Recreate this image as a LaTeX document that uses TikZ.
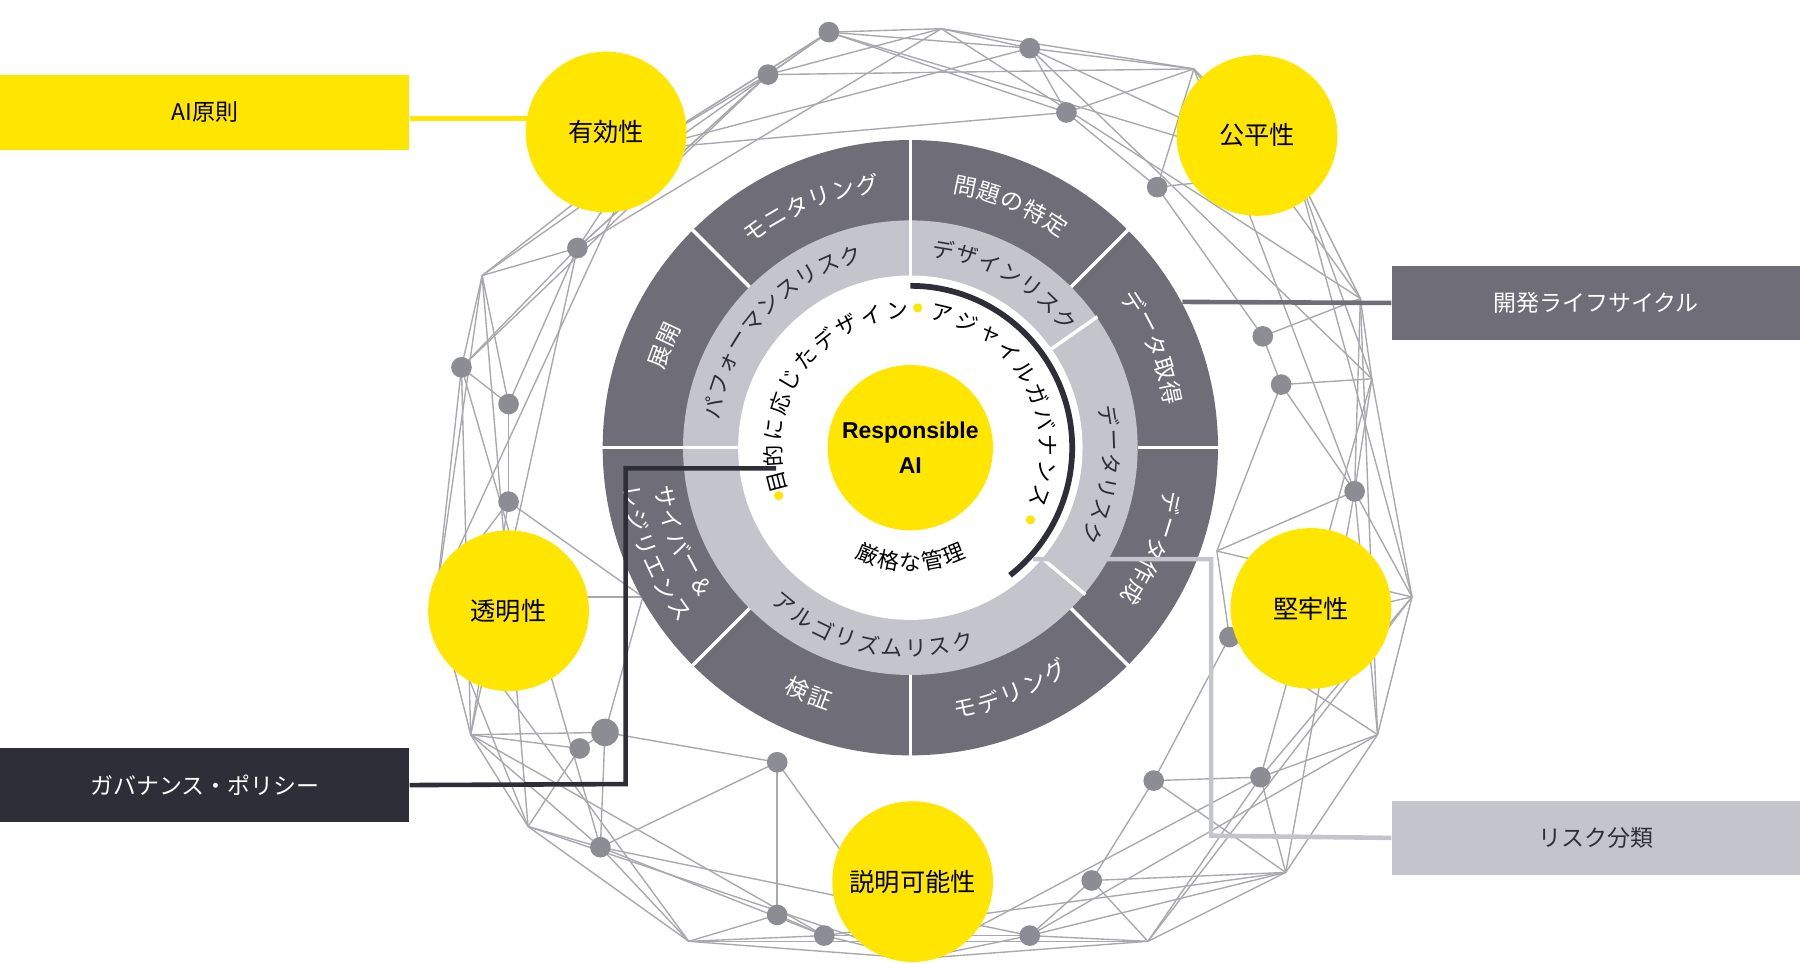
\documentclass[tikz,border=0pt]{standalone}
\usepackage{fontspec}
\setmainfont{Noto Sans CJK JP}
\newfontfamily\lat{Liberation Sans}
\definecolor{ey}{HTML}{FFE600}
\definecolor{dk}{HTML}{6F6E78}
\definecolor{lt}{HTML}{C4C4CD}
\definecolor{gv}{HTML}{2E2E38}
\definecolor{net}{HTML}{A8A8AE}
\definecolor{dot}{HTML}{8C8C94}
\newcommand\arcT[7]{%
 \foreach \ch [count=\i] in {#6}{%
  \pgfmathsetmacro\ang{#2+#4*((#5-1)/2-(\i-1))*#3}%
  \pgfmathsetmacro\rot{\ang-#4*90}%
  \node[rotate=\rot,inner sep=0pt,#7] at (\ang:#1) {\ch};}}
\begin{document}
\begin{tikzpicture}[x=0.5pt,y=-0.5pt,
  edge/.style={net,line width=0.6pt},
  nd/.style={circle,fill=dot,minimum size=9pt,inner sep=0pt},
  big/.style={circle,fill=ey,minimum size=70pt,inner sep=0pt,font=\fontsize{11}{13}\selectfont},
  box/.style={minimum width=178pt,minimum height=32.5pt,inner sep=0pt,font=\fontsize{10}{12}\selectfont},
  ring/.style={white,font=\fontsize{10}{12}\selectfont},
  lring/.style={gv,font=\fontsize{9.5}{12}\selectfont},
  inn/.style={black,font=\fontsize{9.5}{12}\selectfont}]
\useasboundingbox (0,0) rectangle (1568,839);
% network
\foreach \x/\y [count=\k from 0] in {722/28,820/25,897/42,1040/60,1130/150,1185/260,1195/330,1180/428,1230/520,1200/640,1098/677,1120/760,1000/820,897/815,800/835,718/815,600/820,523/738,460/720,410/640,380/520,402/320,420/240,503/216,560/130,669/65}
  \coordinate (o\k) at (\x,\y);
\foreach \x/\y [count=\k from 0] in {929/98,1008/163,1100/293,1116/335,1071/555,1005/680,951/767,677/797,677/664,527/638,505/652,443/437,443/352,560/520,1060/480}
  \coordinate (i\k) at (\x,\y);
\foreach \k in {0,...,25}{
  \pgfmathtruncatemacro\a{mod(\k+1,26)}
  \pgfmathtruncatemacro\b{mod(\k+2,26)}
  \pgfmathtruncatemacro\c{mod(\k+4,26)}
  \draw[edge] (o\k) -- (o\a);
  \draw[edge] (o\k) -- (o\b);
  \draw[edge] (o\k) -- (o\c);}
\foreach \u/\v in {i0/o0,i0/o2,i0/o3,i0/i1,i1/o3,i1/o4,i1/i2,i2/o5,i2/i3,i3/o6,i3/o7,i3/i14,i14/o7,i14/o8,i14/i4,i4/o8,i4/o9,i4/i5,i5/o10,i5/o11,i5/i6,i6/o12,i6/o13,i6/o11,i7/o15,i7/o16,i7/i8,i8/o14,i8/o17,i8/i9,i9/o17,i9/o19,i10/o18,i10/o19,i10/i9,i11/o20,i11/o19,i11/i12,i12/o21,i12/o22,i12/o23,i13/i11,i13/i9,i13/o20,o23/o25,o24/o0,i0/o24}
  \draw[edge] (\u) -- (\v);
\foreach \p [count=\k] in {o0,o2,o25,o7,o10,o13,o15,o17,o21,o23,i0,i1,i2,i3,i4,i5,i6,i7,i8,i10,i11,i12}
  \node[nd] (d\k) at (\p) {};
\node[nd,minimum size=12pt] (dbig) at (i9) {};
% rings
\begin{scope}[shift={(793,390)},yscale=-1]
 \fill[dk] (0,0) circle[radius=268];
 \fill[lt] (0,0) circle[radius=198];
 \fill[white] (0,0) circle[radius=150];
 \foreach \a in {0,45,...,315} \draw[white,line width=1.5pt] (\a:198) -- (\a:270);
 \foreach \a in {90,35,-40,180} \draw[white,line width=1.5pt] (\a:150) -- (\a:199);
 \draw[gv,line width=2.5pt] (90:141) arc[start angle=90,end angle=-52,radius=141];
 \fill[ey] (0,0) circle[radius=72];
 \node[align=center,font=\lat\bfseries\fontsize{10}{15}\selectfont] (resp) at (0,0) {Responsible\\AI};
 \arcT{232}{112.5}{5.3}{1}{6}{モ,ニ,タ,リ,ン,グ}{ring}
 \arcT{232}{67.5}{5.3}{1}{5}{問,題,の,特,定}{ring}
 \arcT{232}{22.5}{5.3}{1}{5}{デ,ー,タ,取,得}{ring}
 \arcT{232}{-22.5}{5.3}{1}{5}{デ,ー,タ,作,成}{ring}
 \arcT{232}{-67.5}{5.3}{-1}{5}{モ,デ,リ,ン,グ}{ring}
 \arcT{232}{-112.5}{5.3}{-1}{2}{検,証}{ring}
 \arcT{232}{157.5}{5.3}{1}{2}{展,開}{ring}
 \arcT{218}{-157.5}{5.6}{-1}{5}{サ,イ,バ,ー,\&}{ring}
 \arcT{246}{-157.5}{5}{-1}{6}{レ,ジ,リ,エ,ン,ス}{ring}
 \arcT{175}{60}{6.8}{1}{7}{デ,ザ,イ,ン,リ,ス,ク}{lring}
 \arcT{175}{-8}{6.8}{1}{6}{デ,ー,タ,リ,ス,ク}{lring}
 \arcT{175}{-102}{6.8}{-1}{9}{ア,ル,ゴ,リ,ズ,ム,リ,ス,ク}{lring}
 \arcT{175}{138}{6.8}{1}{10}{パ,フ,ォ,ー,マ,ン,ス,リ,ス,ク}{lring}
 \arcT{120}{145}{11}{1}{10}{目,的,に,応,じ,た,デ,ザ,イ,ン}{inn}
 \arcT{120}{28}{10.8}{1}{10}{ア,ジ,ャ,イ,ル,ガ,バ,ナ,ン,ス}{inn}
 \arcT{100}{-90}{11}{-1}{5}{厳,格,な,管,理}{inn}
 \fill[ey] (87:122) circle[radius=4];
 \fill[ey] (200:122) circle[radius=4];
 \fill[ey] (-31:122) circle[radius=4];
\end{scope}
% principle circles
\node[big] (c1) at (528,115) {有効性};
\node[big] (c2) at (1095,118) {公平性};
\node[big] (c3) at (443,532) {透明性};
\node[big] (c4) at (1142,530) {堅牢性};
\node[big] (c5) at (795,768) {説明可能性};
% legend boxes
\node[box,fill=ey,anchor=north west] (b1) at (0,65) {AI原則};
\node[box,fill=dk,text=white,anchor=north west] (b2) at (1212,231) {開発ライフサイクル};
\node[box,fill=gv,text=white,anchor=north west] (b3) at (0,651) {ガバナンス・ポリシー};
\node[box,fill=lt,text=gv,anchor=north west] (b4) at (1212,697) {リスク分類};
\coordinate (e1) at (462,103);
\coordinate (e2) at (1030,263);
\coordinate (e3a) at (545,683); \coordinate (e3b) at (545,408); \coordinate (e3) at (676,408);
\coordinate (e4a) at (1055,728); \coordinate (e4b) at (1055,487); \coordinate (e4) at (900,487);
\draw[ey,line width=2pt] (b1.east |- e1) -- (e1);
\draw[dk,line width=2pt] (b2.west) -- (e2);
\draw[gv,line width=2pt] (b3.east) -- (e3a) -- (e3b) -- (e3);
\draw[lt,line width=2pt] (b4.west) -- (e4a) -- (e4b) -- (e4);
\end{tikzpicture}
\end{document}
